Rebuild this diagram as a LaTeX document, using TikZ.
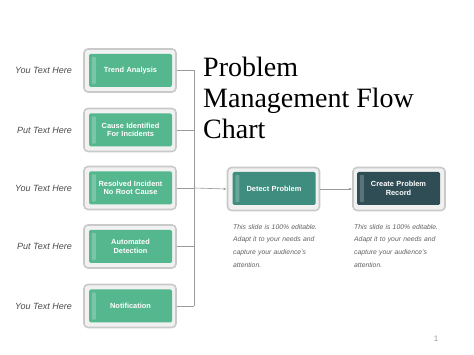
\documentclass[tikz,border=0pt]{standalone}
\usepackage{fontspec}
\setmainfont{Liberation Serif}
\setsansfont{Liberation Sans}
\usetikzlibrary{arrows.meta}
\definecolor{gbox}{HTML}{55B78D}
\definecolor{tbox}{HTML}{3F8D7E}
\definecolor{dbox}{HTML}{2E4D55}
\definecolor{frame}{HTML}{C9C9C9}
\definecolor{framefill}{HTML}{F1F1F1}
\definecolor{lab}{HTML}{4A4A4A}
\definecolor{desc}{HTML}{606060}
\definecolor{conn}{HTML}{9A9A9A}
\tikzset{
  outerbox/.style={draw=frame, line width=1.6pt, fill=framefill, rounded corners=4pt, minimum width=92pt, minimum height=43pt, inner sep=0pt},
  innerbox/.style={fill=#1, rounded corners=1.5pt, minimum width=83pt, minimum height=33pt, inner sep=1pt, text=white, font=\sffamily\bfseries\fontsize{7.4}{8.7}\selectfont, align=center, text width=78pt},
  sidelabel/.style={font=\sffamily\itshape\fontsize{9}{11}\selectfont, text=lab, anchor=east, inner sep=0pt},
  desctext/.style={font=\sffamily\itshape\fontsize{6.8}{12.8}\selectfont, text=desc, anchor=north west, align=left, inner sep=0pt, text width=95pt},
  conline/.style={draw=conn, line width=0.6pt},
  strip/.style={fill=white, fill opacity=0.22, rounded corners=1pt}
}
\begin{document}
\begin{tikzpicture}[x=1pt,y=-1pt]
\useasboundingbox (0,0) rectangle (474,355);
% left column
\foreach \i/\yy/\txt/\lbl in {1/70.5/{Trend Analysis}/{You Text Here},
  2/130/{Cause Identified\\For Incidents}/{Put Text Here},
  3/188/{Resolved Incident\\No Root Cause}/{You Text Here},
  4/246.5/{Automated\\Detection}/{Put Text Here},
  5/306/{Notification}/{You Text Here}}{
  \node[outerbox] (o\i) at (130,\yy) {};
  \node[innerbox=gbox] (b\i) at (130.5,\yy) {\txt};
  \fill[strip] ([xshift=3pt,yshift=-3pt]b\i.north west) rectangle ([xshift=7pt,yshift=3pt]b\i.south west);
  \node[sidelabel] (l\i) at (72,\yy) {\lbl};
}
% right boxes
\node[outerbox] (od) at (273.5,189) {};
\node[innerbox=tbox] (d) at (274,188.5) {Detect Problem};
\fill[strip] ([xshift=3pt,yshift=-3pt]d.north west) rectangle ([xshift=7pt,yshift=3pt]d.south west);
\node[outerbox] (oc) at (399,189) {};
\node[innerbox=dbox] (c) at (398.5,188.5) {Create Problem\\Record};
\fill[strip] ([xshift=3pt,yshift=-3pt]c.north west) rectangle ([xshift=7pt,yshift=3pt]c.south west);
% connectors
\coordinate (trunk) at (194,0);
\foreach \i in {1,...,5}{ \draw[conline] (o\i.east) -- (o\i.east -| trunk); }
\draw[conline] (o1.east -| trunk) -- (o5.east -| trunk);
\draw[conline, -{Latex[length=3pt,width=2.5pt]}] (o3.east -| trunk) -- (od.west);
\draw[conline, -{Latex[length=3pt,width=2.5pt]}] (od.east) -- (oc.west);
% title
\node[anchor=north west, align=left, inner sep=0pt, font=\fontsize{28}{31}\selectfont, text=black] (title) at (203,57) {Problem\\Management Flow\\Chart};
% descriptions
\node[desctext] (dd) at (233,224) {This slide is 100\% editable.\\Adapt it to your needs and\\capture your audience's\\attention.};
\node[desctext] (dc) at (354,224) {This slide is 100\% editable.\\Adapt it to your needs and\\capture your audience's\\attention.};
% page number
\node[font=\sffamily\fontsize{8}{9}\selectfont, text=conn] (pg) at (436,339) {1};
\end{tikzpicture}
\end{document}
